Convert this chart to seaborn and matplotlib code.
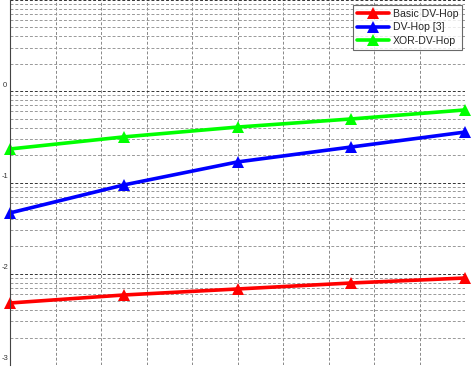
import numpy as np
import pandas as pd
import matplotlib
matplotlib.use("Agg")
import matplotlib.pyplot as plt
import seaborn as sns
from matplotlib.ticker import LogLocator, NullFormatter, MultipleLocator
from matplotlib.transforms import blended_transform_factory

# ---- data ----
x_values = [100, 150, 200, 250, 300]
basic_dvhop = [0.00478, 0.00585, 0.00681, 0.00792, 0.00898]
dvhop_3 = [0.0464, 0.094, 0.168, 0.245, 0.357]
xor_dvhop = [0.233, 0.316, 0.405, 0.497, 0.624]
series_names = ["Basic DV-Hop", "DV-Hop [3]", "XOR-DV-Hop"]
series_colors = ["#ff0000", "#0000ff", "#00ff00"]
ytick_vals = [1, 0.1, 0.01, 0.001]
ytick_labels = ["0", "-1", "-2", "-3"]

df = pd.DataFrame({
    "x": x_values * 3,
    "y": basic_dvhop + dvhop_3 + xor_dvhop,
    "method": sum([[n] * len(x_values) for n in series_names], []),
})

sns.set_style("white")
plt.rcParams["font.family"] = ["Liberation Sans", "DejaVu Sans"]

fig = plt.figure(figsize=(4.74, 3.67), dpi=100)
ax = fig.add_axes([10 / 474, 2 / 367, 455 / 474, 365 / 367])

ax.set_yscale("log")
ax.set_xlim(100, 300)
ax.set_ylim(1e-3, 10)

# grid
ax.xaxis.set_major_locator(MultipleLocator(20))
ax.yaxis.set_major_locator(LogLocator(base=10, numticks=10))
ax.yaxis.set_minor_locator(LogLocator(base=10, subs=np.arange(2, 10), numticks=20))
ax.grid(True, which="major", axis="y", color="#333333", linestyle=(0, (3, 2)), linewidth=0.7)
ax.grid(True, which="minor", axis="y", color="#999999", linestyle=(0, (3, 2)), linewidth=0.7)
ax.grid(True, which="major", axis="x", color="#888888", linestyle=(0, (3, 2)), linewidth=0.7)
ax.set_axisbelow(True)

sns.lineplot(data=df, x="x", y="y", hue="method", style="method",
             hue_order=series_names, style_order=series_names,
             palette=series_colors, markers=["^", "^", "^"], dashes=False,
             linewidth=2.6, markersize=9, markeredgewidth=0,
             ax=ax, clip_on=False, legend=True)

ax.set_xlabel("")
ax.set_ylabel("")
ax.tick_params(axis="both", which="both", length=0, labelbottom=False, labelleft=False)
for s in ["top", "right", "bottom"]:
    ax.spines[s].set_visible(False)
ax.spines["left"].set_color("#444444")
ax.spines["left"].set_linewidth(0.8)

# exponent labels (the "10" base is cropped in the reference)
tr = blended_transform_factory(fig.transFigure, ax.transData)
for v, lab in zip(ytick_vals, ytick_labels):
    ax.text(5 / 474, v * 1.17, lab, transform=tr, fontsize=5.5, ha="center",
            va="center", color="#333333")

leg = ax.legend(loc="upper right", bbox_to_anchor=(462 / 474, 1 - 5 / 367),
                bbox_transform=fig.transFigure, frameon=True, fancybox=False,
                fontsize=7.6, handlelength=3.0, handletextpad=0.4,
                borderpad=0.35, labelspacing=0.35, borderaxespad=0)
leg.get_frame().set_edgecolor("#444444")
leg.get_frame().set_linewidth(0.8)
for h in leg.legend_handles:
    h.set_linewidth(2.6)
    h.set_markersize(9)

fig.savefig("out.png", dpi=100)
